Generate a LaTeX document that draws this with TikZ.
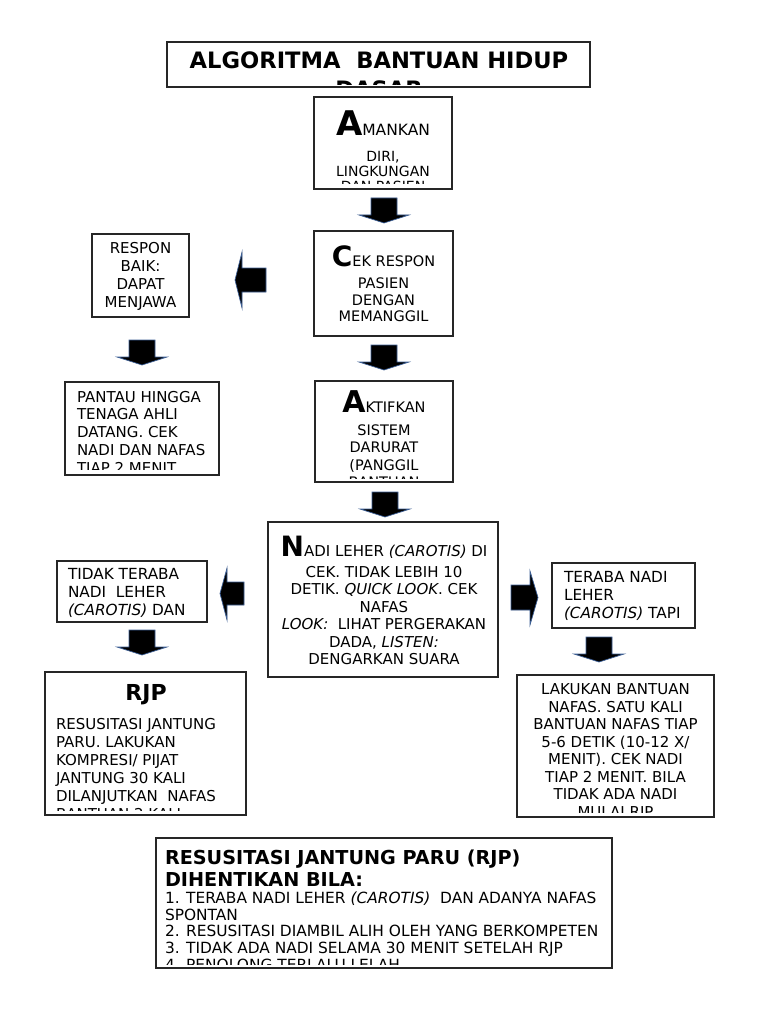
\documentclass[tikz,border=0pt]{standalone}
\usepackage{fontspec}
\setmainfont{DejaVu Sans}
\usetikzlibrary{fit}
\definecolor{arrowedge}{RGB}{60,95,150}
\newcommand\inbox[2][4pt]{\clip ([xshift=1.5pt,yshift=#1]#2.south west) rectangle ([xshift=-1.5pt,yshift=-1.5pt]#2.north east);}
\tikzset{
  panel/.style={draw=black!85, line width=1.1pt, inner sep=0pt, outer sep=0pt, fill=white},
  txt/.style={inner sep=0pt, outer sep=0pt, anchor=base, text=black},
  blk/.style={fill=black, draw=arrowedge, line width=0.7pt, line join=miter},
  darrow/.pic={\filldraw[blk] (-13,0) -- (13,0) -- (13,17) -- (25,17) -- (0,25) -- (-25,17) -- (-13,17) -- cycle;},
}
\begin{document}
\begin{tikzpicture}[x=1pt,y=-1pt]
\useasboundingbox (0,0) rectangle (768,1024);
\fill[white] (0,0) rectangle (768,1024);

% boxes
\node[panel, fit={(167,42) (590,87)}] (T) {};
\node[panel, fit={(314,97) (452,189)}] (A) {};
\node[panel, fit={(314,231) (453,336)}] (C) {};
\node[panel, fit={(92,234) (189,317)}] (R) {};
\node[panel, fit={(65,382) (219,475)}] (P) {};
\node[panel, fit={(315,381) (453,482)}] (K) {};
\node[panel, fit={(268,522) (498,677)}] (N) {};
\node[panel, fit={(57,561) (207,622)}] (TT) {};
\node[panel, fit={(552,563) (695,628)}] (TR) {};
\node[panel, fit={(45,672) (246,815)}] (RJ) {};
\node[panel, fit={(517,675) (714,817)}] (LK) {};
\node[panel, fit={(156,838) (612,968)}] (B) {};

% texts (clipped to their boxes); anchor = baseline of last line
\begin{scope}\inbox[2pt]{T}
\node[txt, align=center, font=\fontsize{22.6}{29}\selectfont\bfseries] (Tt) at (379,97.5) {ALGORITMA\ \ BANTUAN HIDUP\\DASAR};
\end{scope}
\begin{scope}\inbox[5.5pt]{A}
\node[txt, align=center, font=\fontsize{14}{15}\selectfont] (At) at (383,191.5) {{\fontsize{34}{34}\selectfont\bfseries A}{\fontsize{15.5}{15}\selectfont MANKAN}\\[11pt]DIRI,\\LINGKUNGAN\\DAN PASIEN};
\end{scope}
\begin{scope}\inbox{C}
\node[txt, align=center, font=\fontsize{14.5}{16.5}\selectfont] (Ct) at (383.5,321.5) {{\fontsize{28}{28}\selectfont\bfseries C}EK RESPON\\[6pt]PASIEN\\DENGAN\\MEMANGGIL};
\end{scope}
\begin{scope}\inbox{R}
\node[txt, align=center, font=\fontsize{15}{18}\selectfont] (Rt) at (140.5,307.5) {RESPON\\BAIK:\\DAPAT\\MENJAWA};
\end{scope}
\begin{scope}\inbox[5.5pt]{P}
\node[txt, align=left, anchor=base west, font=\fontsize{15}{17.75}\selectfont] (Pt) at (77,473) {PANTAU HINGGA\\TENAGA AHLI\\DATANG. CEK\\NADI DAN NAFAS\\TIAP 2 MENIT};
\end{scope}
\begin{scope}\inbox{K}
\node[txt, align=center, font=\fontsize{14.5}{17.5}\selectfont] (Kt) at (384,487.5) {{\fontsize{30}{30}\selectfont\bfseries A}KTIFKAN\\[5.5pt]SISTEM\\DARURAT\\(PANGGIL\\BANTUAN};
\end{scope}
\begin{scope}\inbox{N}
\node[txt, align=center, font=\fontsize{15}{17.5}\selectfont] (Nt) at (384,664.5) {{\fontsize{28}{28}\selectfont\bfseries N}ADI LEHER \textit{(CAROTIS)} DI\\[3.5pt]CEK. TIDAK LEBIH 10\\DETIK. \textit{QUICK LOOK}. CEK\\NAFAS\\\textit{LOOK:}\ \ LIHAT PERGERAKAN\\DADA, \textit{LISTEN:}\\DENGARKAN SUARA};
\end{scope}
\begin{scope}\inbox{TT}
\node[txt, align=left, anchor=base west, font=\fontsize{15.3}{18}\selectfont] (TTt) at (68,615) {TIDAK TERABA\\NADI\ \ LEHER\\\textit{(CAROTIS)} DAN};
\end{scope}
\begin{scope}\inbox{TR}
\node[txt, align=left, anchor=base west, font=\fontsize{15.3}{18}\selectfont] (TRt) at (564,618) {TERABA NADI\\LEHER\\\textit{(CAROTIS)} TAPI};
\end{scope}
\begin{scope}\inbox[4.5pt]{RJ}
\node[txt, font=\fontsize{22}{26}\selectfont\bfseries] (RJh) at (146,700) {RJP};
\node[txt, align=left, anchor=base west, font=\fontsize{15}{18}\selectfont] (RJt) at (56,819.5) {RESUSITASI JANTUNG\\PARU. LAKUKAN\\KOMPRESI/ PIJAT\\JANTUNG 30 KALI\\DILANJUTKAN\ \ NAFAS\\BANTUAN 2 KALI};
\end{scope}
\begin{scope}\inbox[4.5pt]{LK}
\node[txt, align=center, font=\fontsize{15}{17.5}\selectfont] (LKt) at (615.5,817) {LAKUKAN BANTUAN\\NAFAS. SATU KALI\\BANTUAN NAFAS TIAP\\5-6 DETIK (10-12 X/\\MENIT). CEK NADI\\TIAP 2 MENIT. BILA\\TIDAK ADA NADI\\MULAI RJP};
\end{scope}
\begin{scope}\inbox{B}
\node[txt, align=left, anchor=base west, font=\fontsize{19.2}{22}\selectfont\bfseries] (Bh) at (165,886) {RESUSITASI JANTUNG PARU (RJP)\\DIHENTIKAN BILA:};
\node[txt, align=left, anchor=base west, font=\fontsize{15.4}{16.7}\selectfont] (Bt) at (165,970.3) {1. TERABA NADI LEHER \textit{(CAROTIS)}\ \ DAN ADANYA NAFAS\\SPONTAN\\2. RESUSITASI DIAMBIL ALIH OLEH YANG BERKOMPETEN\\3. TIDAK ADA NADI SELAMA 30 MENIT SETELAH RJP\\4. PENOLONG TERLALU LELAH};
\end{scope}

% block arrows
\pic at (384,198) {darrow};
\pic at (142,340) {darrow};
\pic at (384,345) {darrow};
\pic at (385,492) {darrow};
\pic at (142,630) {darrow};
\pic at (599,637) {darrow};
% left arrow C -> respon
\filldraw[blk] (266,268) -- (266,292) -- (242,292) -- (242,308) -- (235,280) -- (242,252) -- (242,268) -- cycle;
% left arrow N -> tidak teraba
\filldraw[blk] (244,582) -- (244,605) -- (227,605) -- (227,620) -- (220,593.5) -- (227,568) -- (227,582) -- cycle;
% right arrow N -> teraba
\filldraw[blk] (511,585) -- (511,610) -- (530,610) -- (530,625) -- (538,597.5) -- (530,571) -- (530,585) -- cycle;
\end{tikzpicture}
\end{document}
